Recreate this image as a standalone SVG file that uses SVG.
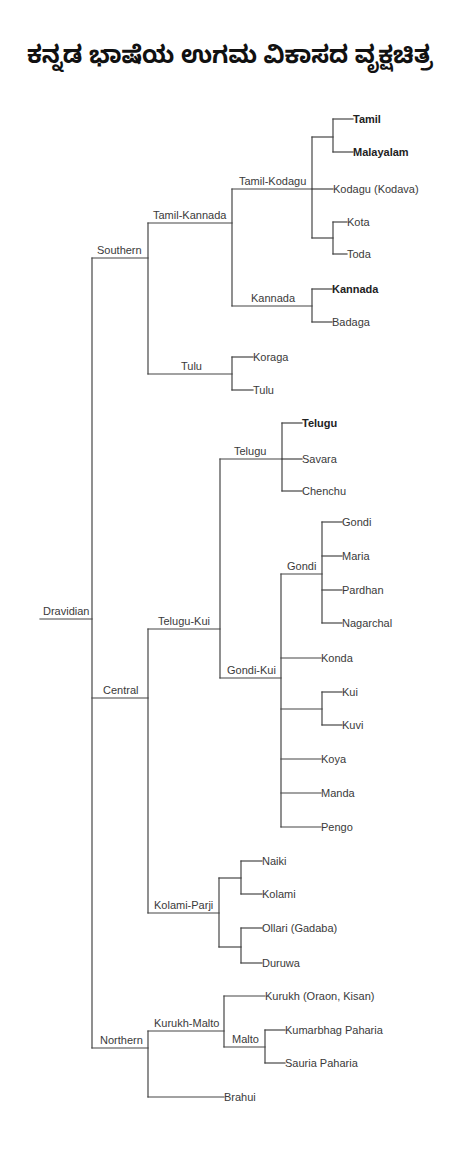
<svg xmlns="http://www.w3.org/2000/svg" width="458" height="1163" viewBox="0 0 458 1163">
<style>
  .bg { fill: #ffffff; }
  .title { font-family: "Noto Sans Kannada", "Noto Sans", sans-serif; font-weight: 700; font-size: 24px; fill: #111111; }
  .conn line { stroke: #454545; stroke-width: 1.2; stroke-linecap: square; }
  text.l { font-family: "Liberation Sans", Arial, sans-serif; font-size: 11px; fill: #3a3a3a; }
  text.b { font-weight: 700; fill: #222222; }
</style>
<rect class="bg" x="0" y="0" width="458" height="1163"/>
<text class="title" x="27" y="63" textLength="406" lengthAdjust="spacingAndGlyphs">ಕನ್ನಡ ಭಾಷೆಯ ಉಗಮ ವಿಕಾಸದ ವೃಕ್ಷಚಿತ್ರ</text>

<g id="connectors" class="conn">
  <line x1="40" y1="619" x2="92" y2="619"/>
  <line x1="92" y1="258" x2="92" y2="1048"/>
  <!-- Southern -->
  <line x1="92" y1="258" x2="148" y2="258"/>
  <line x1="148" y1="223" x2="148" y2="374"/>
  <line x1="148" y1="223" x2="232" y2="223"/>
  <line x1="232" y1="189" x2="232" y2="306"/>
  <line x1="232" y1="189" x2="312" y2="189"/>
  <line x1="312" y1="137" x2="312" y2="238"/>
  <line x1="312" y1="137" x2="333" y2="137"/>
  <line x1="333" y1="119" x2="333" y2="152"/>
  <line x1="333" y1="119" x2="353" y2="119"/>
  <line x1="333" y1="152" x2="353" y2="152"/>
  <line x1="312" y1="189" x2="333" y2="189"/>
  <line x1="312" y1="238" x2="333" y2="238"/>
  <line x1="333" y1="222" x2="333" y2="254"/>
  <line x1="333" y1="222" x2="347" y2="222"/>
  <line x1="333" y1="254" x2="347" y2="254"/>
  <line x1="232" y1="306" x2="312" y2="306"/>
  <line x1="312" y1="289" x2="312" y2="322"/>
  <line x1="312" y1="289" x2="332" y2="289"/>
  <line x1="312" y1="322" x2="332" y2="322"/>
  <line x1="148" y1="374" x2="232" y2="374"/>
  <line x1="232" y1="357" x2="232" y2="390"/>
  <line x1="232" y1="357" x2="253" y2="357"/>
  <line x1="232" y1="390" x2="253" y2="390"/>
  <!-- Central -->
  <line x1="92" y1="698" x2="148" y2="698"/>
  <line x1="148" y1="629" x2="148" y2="913"/>
  <line x1="148" y1="629" x2="220" y2="629"/>
  <line x1="220" y1="459" x2="220" y2="678"/>
  <line x1="220" y1="459" x2="282" y2="459"/>
  <line x1="282" y1="423" x2="282" y2="491"/>
  <line x1="282" y1="423" x2="302" y2="423"/>
  <line x1="282" y1="459" x2="302" y2="459"/>
  <line x1="282" y1="491" x2="302" y2="491"/>
  <line x1="220" y1="678" x2="281" y2="678"/>
  <line x1="281" y1="574" x2="281" y2="827"/>
  <line x1="281" y1="574" x2="322" y2="574"/>
  <line x1="322" y1="522" x2="322" y2="623"/>
  <line x1="322" y1="522" x2="342" y2="522"/>
  <line x1="322" y1="556" x2="342" y2="556"/>
  <line x1="322" y1="590" x2="342" y2="590"/>
  <line x1="322" y1="623" x2="342" y2="623"/>
  <line x1="281" y1="658" x2="321" y2="658"/>
  <line x1="281" y1="709" x2="322" y2="709"/>
  <line x1="322" y1="692" x2="322" y2="725"/>
  <line x1="322" y1="692" x2="342" y2="692"/>
  <line x1="322" y1="725" x2="342" y2="725"/>
  <line x1="281" y1="759" x2="321" y2="759"/>
  <line x1="281" y1="793" x2="321" y2="793"/>
  <line x1="281" y1="827" x2="321" y2="827"/>
  <line x1="148" y1="913" x2="219" y2="913"/>
  <line x1="219" y1="878" x2="219" y2="947"/>
  <line x1="219" y1="878" x2="241" y2="878"/>
  <line x1="241" y1="861" x2="241" y2="894"/>
  <line x1="241" y1="861" x2="262" y2="861"/>
  <line x1="241" y1="894" x2="262" y2="894"/>
  <line x1="219" y1="947" x2="241" y2="947"/>
  <line x1="241" y1="928" x2="241" y2="963"/>
  <line x1="241" y1="928" x2="262" y2="928"/>
  <line x1="241" y1="963" x2="262" y2="963"/>
  <!-- Northern -->
  <line x1="92" y1="1048" x2="148" y2="1048"/>
  <line x1="148" y1="1031" x2="148" y2="1097"/>
  <line x1="148" y1="1031" x2="224" y2="1031"/>
  <line x1="224" y1="996" x2="224" y2="1047"/>
  <line x1="224" y1="996" x2="265" y2="996"/>
  <line x1="224" y1="1047" x2="265" y2="1047"/>
  <line x1="265" y1="1030" x2="265" y2="1063"/>
  <line x1="265" y1="1030" x2="285" y2="1030"/>
  <line x1="265" y1="1063" x2="285" y2="1063"/>
  <line x1="148" y1="1097" x2="224" y2="1097"/>
</g>

<!-- branch labels -->
<g id="n-dravidian"><text class="l" x="43" y="615">Dravidian</text></g>
<g id="n-southern"><text class="l" x="97" y="254">Southern</text></g>
<g id="n-tamil-kannada"><text class="l" x="153" y="219">Tamil-Kannada</text></g>
<g id="n-tamil-kodagu"><text class="l" x="239" y="185">Tamil-Kodagu</text></g>
<g id="n-kannada-grp"><text class="l" x="251" y="302">Kannada</text></g>
<g id="n-tulu-grp"><text class="l" x="181" y="370">Tulu</text></g>
<g id="n-central"><text class="l" x="103" y="694">Central</text></g>
<g id="n-telugu-kui"><text class="l" x="158" y="625">Telugu-Kui</text></g>
<g id="n-telugu-grp"><text class="l" x="234" y="455">Telugu</text></g>
<g id="n-gondi-kui"><text class="l" x="227" y="674">Gondi-Kui</text></g>
<g id="n-gondi-grp"><text class="l" x="287" y="570">Gondi</text></g>
<g id="n-kolami-parji"><text class="l" x="154" y="909">Kolami-Parji</text></g>
<g id="n-northern"><text class="l" x="100" y="1044">Northern</text></g>
<g id="n-kurukh-malto"><text class="l" x="154" y="1027">Kurukh-Malto</text></g>
<g id="n-malto"><text class="l" x="232" y="1043">Malto</text></g>

<!-- leaves -->
<g id="n-tamil"><text class="l b" x="353" y="123">Tamil</text></g>
<g id="n-malayalam"><text class="l b" x="353" y="156">Malayalam</text></g>
<g id="n-kodagu"><text class="l" x="333" y="193">Kodagu (Kodava)</text></g>
<g id="n-kota"><text class="l" x="347" y="226">Kota</text></g>
<g id="n-toda"><text class="l" x="347" y="258">Toda</text></g>
<g id="n-kannada"><text class="l b" x="332" y="293">Kannada</text></g>
<g id="n-badaga"><text class="l" x="332" y="326">Badaga</text></g>
<g id="n-koraga"><text class="l" x="253" y="361">Koraga</text></g>
<g id="n-tulu"><text class="l" x="253" y="394">Tulu</text></g>
<g id="n-telugu"><text class="l b" x="302" y="427">Telugu</text></g>
<g id="n-savara"><text class="l" x="302" y="463">Savara</text></g>
<g id="n-chenchu"><text class="l" x="302" y="495">Chenchu</text></g>
<g id="n-gondi"><text class="l" x="342" y="526">Gondi</text></g>
<g id="n-maria"><text class="l" x="342" y="560">Maria</text></g>
<g id="n-pardhan"><text class="l" x="342" y="594">Pardhan</text></g>
<g id="n-nagarchal"><text class="l" x="342" y="627">Nagarchal</text></g>
<g id="n-konda"><text class="l" x="321" y="662">Konda</text></g>
<g id="n-kui"><text class="l" x="342" y="696">Kui</text></g>
<g id="n-kuvi"><text class="l" x="342" y="729">Kuvi</text></g>
<g id="n-koya"><text class="l" x="321" y="763">Koya</text></g>
<g id="n-manda"><text class="l" x="321" y="797">Manda</text></g>
<g id="n-pengo"><text class="l" x="321" y="831">Pengo</text></g>
<g id="n-naiki"><text class="l" x="262" y="865">Naiki</text></g>
<g id="n-kolami"><text class="l" x="262" y="898">Kolami</text></g>
<g id="n-ollari"><text class="l" x="262" y="932">Ollari (Gadaba)</text></g>
<g id="n-duruwa"><text class="l" x="262" y="967">Duruwa</text></g>
<g id="n-kurukh"><text class="l" x="265" y="1000">Kurukh (Oraon, Kisan)</text></g>
<g id="n-kumarbhag"><text class="l" x="285" y="1034">Kumarbhag Paharia</text></g>
<g id="n-sauria"><text class="l" x="285" y="1067">Sauria Paharia</text></g>
<g id="n-brahui"><text class="l" x="224" y="1101">Brahui</text></g>
</svg>
